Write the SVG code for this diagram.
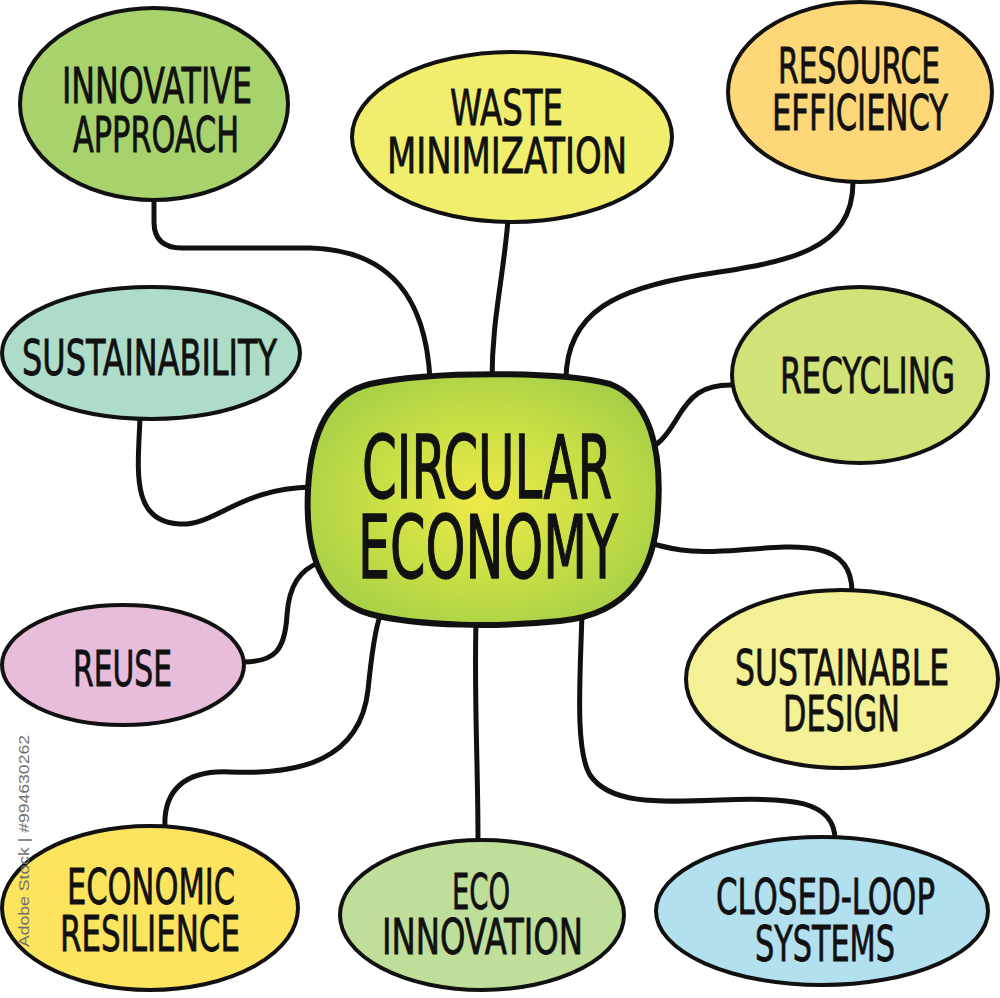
<svg xmlns="http://www.w3.org/2000/svg" width="1000" height="998" viewBox="0 0 1000 998">
<defs>
<radialGradient id="cg" cx="0.5" cy="0.5" r="0.6">
<stop offset="0" stop-color="#eeea48"/>
<stop offset="0.55" stop-color="#c6de45"/>
<stop offset="1" stop-color="#a3ce48"/>
</radialGradient>
<style>
.n{stroke:#111;stroke-width:4}
.t{font-family:'Liberation Sans Narrow','DejaVu Sans',sans-serif;font-stretch:condensed;font-size:50px;fill:#111;stroke:#111;stroke-width:0.8;text-anchor:start}
.big{font-size:88px;stroke-width:1.4}
.c{fill:none;stroke:#111;stroke-width:5;stroke-linecap:round;stroke-linejoin:round}
.wm{font-family:'Liberation Sans',Arial,sans-serif;font-size:15px;fill:#6f6f6f}
</style>
</defs>
<rect width="1000" height="998" fill="#ffffff"/>
<g id="connectors">
<path class="c" d="M154,198 L154,222 Q154,248 182,248 L310,248 C392,250 426,300 430,380"/>
<path class="c" d="M508,220 C503,280 492,320 492,380"/>
<path class="c" d="M853,182 C853,250 790,262 700,275 C620,288 566,310 566,380"/>
<path class="c" d="M734,385 C702,384 690,396 676,420 C665,438 658,445 646,451"/>
<path class="c" d="M140,418 C138,470 130,522 180,524 C215,526 240,488 312,487"/>
<path class="c" d="M243,662 C275,662 285,650 287,615 C289,585 300,570 320,562"/>
<path class="c" d="M165,828 C163,790 185,770 230,772 C300,775 360,760 368,690 C372,650 375,630 380,616"/>
<path class="c" d="M478,842 C478,760 474,700 476,622"/>
<path class="c" d="M582,614 C580,680 575,750 590,775 C610,805 660,802 720,800 C790,797 835,800 835,840"/>
<path class="c" d="M650,543 C680,552 700,553 740,550 C800,545 852,540 852,592"/>
</g>
<g id="innovative-approach">
<ellipse class="n" cx="154" cy="104" rx="134" ry="96" fill="#a8d36c"/>
<text class="t" x="62" y="103" textLength="190" lengthAdjust="spacingAndGlyphs">INNOVATIVE</text>
<text class="t" x="73" y="152" textLength="166" lengthAdjust="spacingAndGlyphs">APPROACH</text>
</g>
<g id="waste-minimization">
<ellipse class="n" cx="512" cy="137" rx="160" ry="85" fill="#f1ee6d"/>
<text class="t" x="450" y="125" textLength="113" lengthAdjust="spacingAndGlyphs">WASTE</text>
<text class="t" x="387" y="173" textLength="240" lengthAdjust="spacingAndGlyphs">MINIMIZATION</text>
</g>
<g id="resource-efficiency">
<ellipse class="n" cx="860" cy="92" rx="132" ry="90" fill="#fed878"/>
<text class="t" x="778" y="83" textLength="162" lengthAdjust="spacingAndGlyphs">RESOURCE</text>
<text class="t" x="772" y="130" textLength="176" lengthAdjust="spacingAndGlyphs">EFFICIENCY</text>
</g>
<g id="sustainability">
<ellipse class="n" cx="151" cy="353" rx="149" ry="66" fill="#addcc8"/>
<text class="t" x="22" y="375" textLength="255" lengthAdjust="spacingAndGlyphs">SUSTAINABILITY</text>
</g>
<g id="recycling">
<ellipse class="n" cx="860" cy="375" rx="128" ry="88" fill="#d0e278"/>
<text class="t" x="780" y="393" textLength="175" lengthAdjust="spacingAndGlyphs">RECYCLING</text>
</g>
<g id="circular-economy">
<path d="M370,384 C430,371 560,371 610,384 C650,399 662,450 658,510 C655,570 630,614 560,621 C500,627 420,627 370,614 C320,600 305,550 308,490 C311,430 330,394 370,384 Z" fill="url(#cg)" stroke="#111" stroke-width="6"/>
<text class="t big" x="362" y="498" textLength="250" lengthAdjust="spacingAndGlyphs">CIRCULAR</text>
<text class="t big" x="358" y="578" textLength="260" lengthAdjust="spacingAndGlyphs">ECONOMY</text>
</g>
<g id="reuse">
<ellipse class="n" cx="123" cy="665" rx="121" ry="60" fill="#e7bddb"/>
<text class="t" x="73" y="686" textLength="99" lengthAdjust="spacingAndGlyphs">REUSE</text>
</g>
<g id="sustainable-design">
<ellipse class="n" cx="842" cy="679" rx="156" ry="89" fill="#f3f095"/>
<text class="t" x="735" y="685" textLength="214" lengthAdjust="spacingAndGlyphs">SUSTAINABLE</text>
<text class="t" x="783" y="731" textLength="117" lengthAdjust="spacingAndGlyphs">DESIGN</text>
</g>
<g id="economic-resilience">
<ellipse class="n" cx="150" cy="908" rx="148" ry="82" fill="#fde45f"/>
<text class="t" x="67" y="904" textLength="168" lengthAdjust="spacingAndGlyphs">ECONOMIC</text>
<text class="t" x="60" y="951" textLength="180" lengthAdjust="spacingAndGlyphs">RESILIENCE</text>
</g>
<g id="eco-innovation">
<ellipse class="n" cx="482" cy="915" rx="142" ry="75" fill="#bfde9a"/>
<text class="t" x="452" y="909" textLength="58" lengthAdjust="spacingAndGlyphs">ECO</text>
<text class="t" x="382" y="954" textLength="201" lengthAdjust="spacingAndGlyphs">INNOVATION</text>
</g>
<g id="closed-loop-systems">
<ellipse class="n" cx="822" cy="911" rx="166" ry="74" fill="#b2e0ef"/>
<text class="t" x="716" y="914" textLength="219" lengthAdjust="spacingAndGlyphs">CLOSED-LOOP</text>
<text class="t" x="755" y="961" textLength="140" lengthAdjust="spacingAndGlyphs">SYSTEMS</text>
</g>
<text class="wm" transform="translate(29,947) rotate(-90)" x="0" y="0" textLength="212" lengthAdjust="spacingAndGlyphs">Adobe Stock | #994630262</text>
</svg>
